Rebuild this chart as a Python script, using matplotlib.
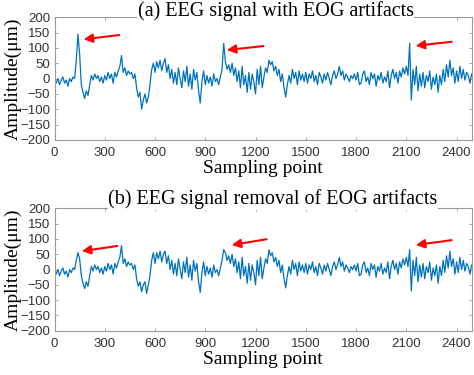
import numpy as np
import matplotlib
matplotlib.use('Agg')
import matplotlib.pyplot as plt
from matplotlib import font_manager

# amplitude read every 10 samples, 0..2500
step = 10
eeg_raw = [
    -5, -15, 0, -20, -5, 5, -15, -5, -25, 0,
    -10, 5, 0, 60, 145, 80, -20, -45, -65, -40,
    -55, -20, 10, -5, 15, 0, 10, -10, 5, -15,
    10, -5, 20, 0, 15, -15, 20, 5, 25, 40,
    75, 20, 35, 10, 25, 15, 20, 0, 15, -30,
    -60, -45, -100, -70, -50, -80, -60, -20, 30, 50,
    20, 55, 35, 60, 25, 50, 65, 20, 45, 0,
    30, -15, 20, -20, 35, 0, -30, 25, -10, 40,
    -25, 15, -35, 30, -5, 20, -40, -80, -10, 25,
    -20, 10, -15, 5, -25, 15, -10, 0, -20, 5,
    30, 115, 55, 30, 45, 20, 50, 10, 35, -10,
    25, -30, 40, -20, 10, -45, 20, -35, 15, -10,
    -50, 30, -20, 40, -30, 5, 35, 20, 60, 45,
    55, 25, 40, 10, 30, -10, 15, -30, -60, -20,
    10, -15, 30, 0, 20, -20, 25, -5, 15, -10,
    20, -15, 15, 0, 25, -10, 10, -20, 20, 5,
    -15, 15, -5, 20, 0, -20, 10, 25, 0, 15,
    40, 10, 25, -5, 15, 5, -10, 10, 0, 15,
    -5, 20, -20, -15, 15, 25, -10, 5, -20, 20,
    0, 15, -25, 10, -5, 20, -15, 5, -10, 25,
    -30, 10, 30, 0, 20, -15, 25, 5, 35, 15,
    40, 10, 115, -70, 30, -20, 40, -40, 15, -25,
    20, -30, 10, -10, 25, -35, 5, -20, 15, -45,
    10, -20, 30, -10, 45, 5, 60, 10, 35, -15,
    25, -10, 40, 0, 30, -5, 20, 10, -15, 15,
    0,
]
eeg_clean = [
    -5, -15, 0, -20, -5, 5, -15, -5, -25, 0,
    -10, 5, 0, 30, 55, 35, -20, -45, -62, -40,
    -55, -20, 10, -5, 15, 0, 10, -10, 5, -15,
    10, -5, 20, 0, 15, -15, 20, 5, 25, 40,
    78, 20, 35, 10, 25, 15, 20, 0, 15, -30,
    -55, -40, -72, -50, -40, -78, -50, -20, 30, 55,
    20, 55, 35, 60, 25, 50, 60, 20, 45, 0,
    30, -15, 20, -20, 35, 0, -30, 25, -10, 40,
    -25, 15, -35, 30, -5, 20, -40, -75, -10, 25,
    -20, 10, -15, 5, -25, 15, -10, 0, -20, 5,
    30, 65, 55, 30, 45, 20, 50, 10, 35, -10,
    25, -30, 40, -20, 10, -45, 20, -35, 15, -10,
    -50, 30, -20, 40, -30, 5, 35, 20, 65, 45,
    55, 25, 40, 10, 30, -10, 15, -30, -60, -20,
    10, -15, 30, 0, 20, -20, 25, -5, 15, -10,
    20, -15, 15, 0, 25, -10, 10, -20, 20, 5,
    -15, 15, -5, 20, 0, -20, 10, 25, 0, 15,
    40, 10, 25, -5, 15, 5, -10, 10, 0, 15,
    -5, 20, -20, -15, 15, 25, -10, 5, -20, 20,
    0, 15, -25, 10, -5, 20, -15, 5, -10, 25,
    -30, 10, 30, 0, 20, -15, 25, 5, 35, 15,
    40, 10, 65, -70, 30, -20, 40, -40, 15, -25,
    20, -30, 10, -10, 25, -35, 5, -20, 15, -45,
    10, -20, 30, -10, 45, 5, 60, 10, 35, -15,
    25, -10, 40, 0, 30, -5, 20, 10, -15, 15,
    0,
]
# arrows: (tail_x, tail_y, tip_x, tip_y) in data units
arrows_raw = [(386, 142, 174, 128), (1247, 106, 1029, 93), (2371, 120, 2156, 107)]
arrows_clean = [(376, 77, 163, 60), (1266, 99, 1058, 80), (2370, 96, 2157, 80)]

titles = ['(a) EEG signal with EOG artifacts', '(b) EEG signal removal of EOG artifacts']
xticks = [0, 300, 600, 900, 1200, 1500, 1800, 2100, 2400]
yticks = [-200, -150, -100, -50, 0, 50, 100, 150, 200]

serif = 'Liberation Serif'
names = {f.name for f in font_manager.fontManager.ttflist}
sans = 'Liberation Sans Narrow' if 'Liberation Sans Narrow' in names else 'Liberation Sans'
line_col = '#0072BD'
frame_col = '#9a9a9a'

fig = plt.figure(figsize=(4.74, 3.75), dpi=100)
ax_pos = [[0.115, 0.627, 0.880, 0.327], [0.115, 0.118, 0.880, 0.3265]]
title_pos = [(0.582, 0.970), (0.576, 0.469)]
series = [eeg_raw, eeg_clean]
arrow_sets = [arrows_raw, arrows_clean]

for i in range(2):
    ax = fig.add_axes(ax_pos[i])
    y = np.array(series[i], dtype=float)
    x = np.arange(len(y)) * step
    ax.plot(x, y, color=line_col, lw=0.9)
    ax.set_xlim(0, 2490)
    ax.set_ylim(-200, 200)
    ax.set_xticks(xticks)
    ax.set_yticks(yticks)
    ax.tick_params(direction='in', length=2.5, width=0.6, color=frame_col,
                   top=True, right=True, labelsize=9.5, labelcolor='#333333')
    ax.tick_params(axis='x', pad=5)
    ax.tick_params(axis='y', pad=3)
    for lab in ax.get_xticklabels() + ax.get_yticklabels():
        lab.set_family(sans)
    for sp in ax.spines.values():
        sp.set_color(frame_col)
        sp.set_linewidth(0.8)
    ax.set_xlabel('Sampling point', family=serif, fontsize=14, labelpad=1)
    ax.set_ylabel('Amplitude(\u03bcm)', family=serif, fontsize=14, labelpad=-1)
    for tx, ty, hx, hy in arrow_sets[i]:
        ax.annotate('', xy=(hx, hy), xytext=(tx, ty),
                    arrowprops=dict(arrowstyle='-|>', color='red', lw=1.5,
                                    mutation_scale=13, shrinkA=0, shrinkB=0))
    fig.text(title_pos[i][0], title_pos[i][1], titles[i], family=serif, fontsize=14.5,
             ha='center', va='center', zorder=5,
             bbox=dict(facecolor='white', edgecolor='none', pad=0.5))

fig.savefig('out.png', dpi=100)
